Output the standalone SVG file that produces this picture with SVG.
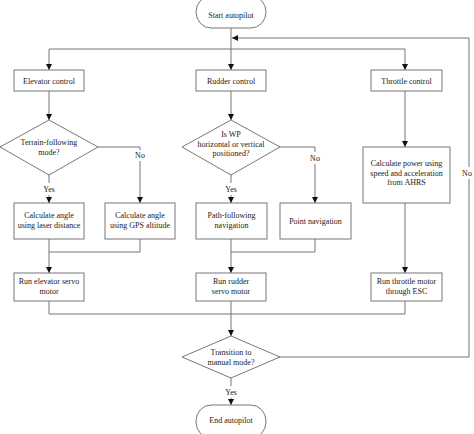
<svg xmlns="http://www.w3.org/2000/svg" width="474" height="434" viewBox="0 0 474 434">
<defs>
<marker id="arr" markerUnits="userSpaceOnUse" markerWidth="7" markerHeight="7" refX="6" refY="3" orient="auto">
<path d="M0,0 L6,3 L0,6 Z" fill="#111"/>
</marker>
<style>
.n{fill:#fff;stroke:#777;stroke-width:1}
.c{fill:none;stroke:#777;stroke-width:1}
.a{fill:none;stroke:#777;stroke-width:1;marker-end:url(#arr)}
text{font-family:"Liberation Serif","Times New Roman",serif;font-size:8px;fill:#1a1a1a;text-anchor:middle}
</style>
</defs>
<rect width="474" height="434" fill="#fff"/>
<g id="connectors">
<path class="c" d="M231,28 V49"/>
<path class="c" d="M49,49 H405"/>
<path class="a" d="M49,49 V70"/>
<path class="a" d="M231,49 V70"/>
<path class="a" d="M405,49 V70"/>
<path class="a" d="M49,91 V120"/>
<path class="a" d="M231,91 V120"/>
<path class="a" d="M405,91 V147"/>
<path class="c" d="M49,175 V183"/>
<path class="a" d="M49,195 V203"/>
<path class="c" d="M98,147 H140 V150"/>
<path class="a" d="M140,161 V203"/>
<path class="c" d="M231,175 V183"/>
<path class="a" d="M231,195 V203"/>
<path class="c" d="M280,147 H315 V152"/>
<path class="a" d="M315,164 V203"/>
<path class="c" d="M49,239 V252 H140 V239"/>
<path class="c" d="M231,239 V252 H315 V239"/>
<path class="a" d="M49,252 V273"/>
<path class="a" d="M231,252 V273"/>
<path class="a" d="M405,203 V273"/>
<path class="c" d="M49,301 V314 H405 V301"/>
<path class="a" d="M231,301 V336"/>
<path class="c" d="M231,378 V386"/>
<path class="a" d="M231,398 V405"/>
<path class="c" d="M280,357 H469 V179"/>
<path class="a" d="M469,167 V38 H232"/>
</g>
<g id="start"><rect class="n" x="196" y="-4" width="70" height="32" rx="15" ry="16"/><text x="231" y="18">Start autopilot</text></g>
<g id="elevator"><rect class="n" x="14" y="70" width="70" height="21"/><text x="49" y="83.5">Elevator control</text></g>
<g id="rudder"><rect class="n" x="196" y="70" width="70" height="21"/><text x="231" y="83.5">Rudder control</text></g>
<g id="throttle"><rect class="n" x="371" y="70" width="71" height="21"/><text x="406.5" y="83.5">Throttle control</text></g>
<g id="terrain"><polygon class="n" points="49,120 98,147 49,175 0,147"/><text x="49" y="145">Terrain-following</text><text x="49" y="155">mode?</text></g>
<g id="wp"><polygon class="n" points="231,120 280,147 231,175 182,147"/><text x="231" y="137">Is WP</text><text x="231" y="146.5">horizontal or vertical</text><text x="231" y="156">positioned?</text></g>
<g id="calcLaser"><rect class="n" x="14" y="203" width="70" height="36"/><text x="49" y="218">Calculate angle</text><text x="49" y="228">using laser distance</text></g>
<g id="calcGps"><rect class="n" x="105" y="203" width="70" height="36"/><text x="140" y="218">Calculate angle</text><text x="140" y="228">using GPS altitude</text></g>
<g id="pathNav"><rect class="n" x="196" y="203" width="71" height="36"/><text x="231.5" y="218">Path-following</text><text x="231.5" y="228">navigation</text></g>
<g id="pointNav"><rect class="n" x="280" y="203" width="71" height="36"/><text x="315.5" y="223.5">Point navigation</text></g>
<g id="calcPower"><rect class="n" x="363" y="147" width="87" height="56"/><text x="406.5" y="166">Calculate power using</text><text x="406.5" y="175.5">speed and acceleration</text><text x="406.5" y="185">from AHRS</text></g>
<g id="runElev"><rect class="n" x="14" y="273" width="70" height="28"/><text x="49" y="284">Run elevator servo</text><text x="49" y="294">motor</text></g>
<g id="runRudder"><rect class="n" x="196" y="273" width="70" height="28"/><text x="231" y="284">Run rudder</text><text x="231" y="294">servo motor</text></g>
<g id="runThrottle"><rect class="n" x="371" y="273" width="71" height="28"/><text x="406.5" y="284">Run throttle motor</text><text x="406.5" y="294">through ESC</text></g>
<g id="manual"><polygon class="n" points="231,336 280,357 231,378 182,357"/><text x="231" y="355">Transition to</text><text x="231" y="365">manual mode?</text></g>
<g id="end"><rect class="n" x="196" y="405" width="70" height="33" rx="15" ry="16"/><text x="231" y="423">End autopilot</text></g>
<g id="labels">
<text x="49" y="192">Yes</text>
<text x="140" y="158">No</text>
<text x="231" y="192">Yes</text>
<text x="315" y="161">No</text>
<text x="231" y="395">Yes</text>
<text x="467" y="176">No</text>
</g>
</svg>
